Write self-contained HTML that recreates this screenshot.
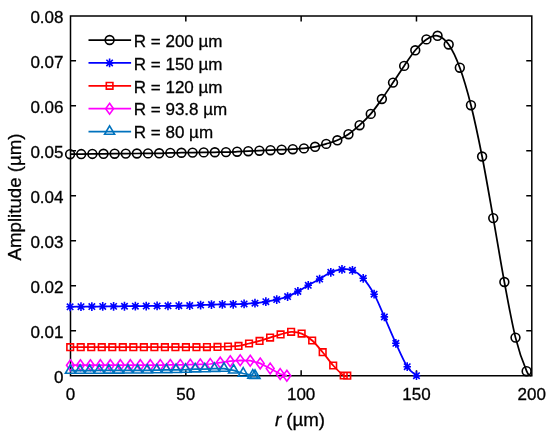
<!DOCTYPE html>
<html><head><meta charset="utf-8"><title>Amplitude vs r</title>
<style>html,body{margin:0;padding:0;background:#fff;width:550px;height:434px;overflow:hidden}svg{display:block}text{font-family:"Liberation Sans",sans-serif}</style>
</head><body>
<svg width="550" height="434" viewBox="0 0 550 434"><rect width="550" height="434" fill="#fff"/>
<path d="M70.5,15.9H531.8V375.7H70.5ZM185.82,375.7v-4.8M185.82,15.9v4.8M301.15,375.7v-4.8M301.15,15.9v4.8M416.48,375.7v-4.8M416.48,15.9v4.8M70.5,330.72h4.8M531.8,330.72h-4.8M70.5,285.75h4.8M531.8,285.75h-4.8M70.5,240.77h4.8M531.8,240.77h-4.8M70.5,195.8h4.8M531.8,195.8h-4.8M70.5,150.82h4.8M531.8,150.82h-4.8M70.5,105.85h4.8M531.8,105.85h-4.8M70.5,60.87h4.8M531.8,60.87h-4.8" fill="none" stroke="#000000" stroke-width="1.5" stroke-linecap="square"/>
<g font-size="17" fill="#000000" stroke="#000000" stroke-width="0.3">
<text x="70.5" y="400" text-anchor="middle">0</text>
<text x="185.82" y="400" text-anchor="middle">50</text>
<text x="301.15" y="400" text-anchor="middle">100</text>
<text x="416.48" y="400" text-anchor="middle">150</text>
<text x="531.8" y="400" text-anchor="middle">200</text>
<text x="63.5" y="382.7" text-anchor="end">0</text>
<text x="63.5" y="337.72" text-anchor="end">0.01</text>
<text x="63.5" y="292.75" text-anchor="end">0.02</text>
<text x="63.5" y="247.77" text-anchor="end">0.03</text>
<text x="63.5" y="202.8" text-anchor="end">0.04</text>
<text x="63.5" y="157.82" text-anchor="end">0.05</text>
<text x="63.5" y="112.85" text-anchor="end">0.06</text>
<text x="63.5" y="67.87" text-anchor="end">0.07</text>
<text x="63.5" y="22.9" text-anchor="end">0.08</text>
</g>
<text x="300" y="426" font-size="18.7" fill="#000000" stroke="#000000" stroke-width="0.3" text-anchor="middle"><tspan font-style="italic">r</tspan> (µm)</text>
<text transform="translate(21.2,197) rotate(-90)" font-size="18.7" fill="#000000" stroke="#000000" stroke-width="0.3" text-anchor="middle">Amplitude (µm)</text>
<path d="M70.1,154.2C71.96,154.18 77.52,154.11 81.23,154.07C84.95,154.02 88.66,153.98 92.37,153.93C96.08,153.89 99.79,153.84 103.5,153.8C107.22,153.76 110.93,153.73 114.64,153.7C118.35,153.67 122.06,153.63 125.77,153.6C129.49,153.57 133.2,153.53 136.91,153.5C140.62,153.47 144.33,153.43 148.04,153.4C151.76,153.37 155.47,153.38 159.18,153.3C162.89,153.22 166.6,152.99 170.31,152.9C174.03,152.81 177.74,152.79 181.45,152.74C185.16,152.69 188.87,152.63 192.58,152.58C196.3,152.53 200.01,152.47 203.72,152.42C207.43,152.37 211.14,152.31 214.85,152.26C218.57,152.21 222.28,152.19 225.99,152.1C229.7,152.01 233.41,151.85 237.12,151.7C240.84,151.55 244.55,151.37 248.26,151.2C251.97,151.03 255.68,150.87 259.39,150.7C263.11,150.53 266.82,150.37 270.53,150.2C274.24,150.03 277.95,149.87 281.66,149.7C285.38,149.53 289.09,149.42 292.8,149.2C296.51,148.98 300.22,148.8 303.94,148.4C307.65,148 311.36,147.55 315.07,146.8C318.78,146.05 322.49,144.98 326.21,143.9C329.92,142.82 333.63,141.92 337.34,140.3C341.05,138.68 344.76,136.72 348.48,134.2C352.19,131.68 355.9,128.58 359.61,125.2C363.32,121.82 367.03,118.27 370.75,113.9C374.46,109.53 378.17,104.22 381.88,99C385.59,93.78 389.3,88.12 393.01,82.6C396.73,77.08 400.44,71.28 404.15,65.9C407.86,60.52 411.57,54.72 415.28,50.3C419,45.88 422.71,41.82 426.42,39.4C430.13,36.98 433.84,34.95 437.55,35.8C441.27,36.65 444.98,39.18 448.69,44.5C452.4,49.82 456.11,57.58 459.82,67.7C463.54,77.82 467.25,90.4 470.96,105.2C474.67,120 478.38,137.68 482.1,156.5C485.81,175.32 489.52,197.18 493.23,218.1C496.94,239.02 500.65,262.08 504.37,282C508.08,301.92 511.79,322.73 515.5,337.6C519.21,352.47 523.92,364.85 526.63,371.2C529.35,377.55 530.94,374.95 531.8,375.7" fill="none" stroke="#000000" stroke-width="1.75" stroke-linejoin="round"/>
<g fill="none" stroke="#000000" stroke-width="1.6"><circle cx="70.1" cy="154.2" r="4.4"/><circle cx="81.23" cy="154.07" r="4.4"/><circle cx="92.37" cy="153.93" r="4.4"/><circle cx="103.5" cy="153.8" r="4.4"/><circle cx="114.64" cy="153.7" r="4.4"/><circle cx="125.77" cy="153.6" r="4.4"/><circle cx="136.91" cy="153.5" r="4.4"/><circle cx="148.04" cy="153.4" r="4.4"/><circle cx="159.18" cy="153.3" r="4.4"/><circle cx="170.31" cy="152.9" r="4.4"/><circle cx="181.45" cy="152.74" r="4.4"/><circle cx="192.58" cy="152.58" r="4.4"/><circle cx="203.72" cy="152.42" r="4.4"/><circle cx="214.85" cy="152.26" r="4.4"/><circle cx="225.99" cy="152.1" r="4.4"/><circle cx="237.12" cy="151.7" r="4.4"/><circle cx="248.26" cy="151.2" r="4.4"/><circle cx="259.39" cy="150.7" r="4.4"/><circle cx="270.53" cy="150.2" r="4.4"/><circle cx="281.66" cy="149.7" r="4.4"/><circle cx="292.8" cy="149.2" r="4.4"/><circle cx="303.94" cy="148.4" r="4.4"/><circle cx="315.07" cy="146.8" r="4.4"/><circle cx="326.21" cy="143.9" r="4.4"/><circle cx="337.34" cy="140.3" r="4.4"/><circle cx="348.48" cy="134.2" r="4.4"/><circle cx="359.61" cy="125.2" r="4.4"/><circle cx="370.75" cy="113.9" r="4.4"/><circle cx="381.88" cy="99" r="4.4"/><circle cx="393.01" cy="82.6" r="4.4"/><circle cx="404.15" cy="65.9" r="4.4"/><circle cx="415.28" cy="50.3" r="4.4"/><circle cx="426.42" cy="39.4" r="4.4"/><circle cx="437.55" cy="35.8" r="4.4"/><circle cx="448.69" cy="44.5" r="4.4"/><circle cx="459.82" cy="67.7" r="4.4"/><circle cx="470.96" cy="105.2" r="4.4"/><circle cx="482.1" cy="156.5" r="4.4"/><circle cx="493.23" cy="218.1" r="4.4"/><circle cx="504.37" cy="282" r="4.4"/><circle cx="515.5" cy="337.6" r="4.4"/><circle cx="526.63" cy="371.2" r="4.4"/></g>
<path d="M70.1,306.8C71.91,306.78 77.35,306.73 80.97,306.69C84.6,306.65 88.22,306.62 91.85,306.58C95.47,306.55 99.1,306.51 102.72,306.47C106.35,306.44 109.97,306.4 113.6,306.36C117.22,306.33 120.85,306.29 124.47,306.25C128.1,306.22 131.72,306.18 135.35,306.15C138.97,306.11 142.6,306.07 146.22,306.04C149.85,306 153.47,305.96 157.1,305.93C160.72,305.89 164.35,305.85 167.97,305.82C171.6,305.78 175.22,305.75 178.85,305.71C182.47,305.67 186.1,305.7 189.72,305.6C193.35,305.5 196.97,305.27 200.6,305.1C204.22,304.93 207.85,304.72 211.47,304.6C215.1,304.48 218.72,304.45 222.35,304.4C225.97,304.35 229.6,304.38 233.22,304.3C236.85,304.22 240.47,304.08 244.1,303.9C247.72,303.72 251.35,303.57 254.97,303.2C258.6,302.83 262.23,302.3 265.85,301.7C269.48,301.1 273.1,300.45 276.73,299.6C280.35,298.75 284.08,297.97 287.6,296.6C291.12,295.23 294.43,293.28 297.88,291.4C301.32,289.52 304.62,287.35 308.25,285.3C311.88,283.25 315.87,281.27 319.62,279.1C323.38,276.93 327.07,273.92 330.8,272.3C334.53,270.68 338.37,269.73 341.98,269.4C345.58,269.07 348.91,268.82 352.45,270.3C355.99,271.78 359.62,274.32 363.23,278.3C366.83,282.28 370.58,287.77 374.1,294.2C377.62,300.63 380.75,308.72 384.38,316.9C388,325.08 392.04,335 395.85,343.3C399.66,351.6 403.79,361.3 407.23,366.7C410.66,372.1 414.93,374.2 416.48,375.7" fill="none" stroke="#0000ff" stroke-width="1.75" stroke-linejoin="round"/>
<path d="M70.1,302.4v8.8M66.89,303.63L73.31,309.97M66.89,309.97L73.31,303.63M66.36,306.8h7.48M80.97,302.29v8.8M77.76,303.52L84.19,309.86M77.76,309.86L84.19,303.52M77.23,306.69h7.48M91.85,302.18v8.8M88.64,303.41L95.06,309.75M88.64,309.75L95.06,303.41M88.11,306.58h7.48M102.72,302.07v8.8M99.51,303.3L105.94,309.64M99.51,309.64L105.94,303.3M98.98,306.47h7.48M113.6,301.96v8.8M110.39,303.2L116.81,309.53M110.39,309.53L116.81,303.2M109.86,306.36h7.48M124.47,301.85v8.8M121.26,303.09L127.69,309.42M121.26,309.42L127.69,303.09M120.73,306.25h7.48M135.35,301.75v8.8M132.14,302.98L138.56,309.31M132.14,309.31L138.56,302.98M131.61,306.15h7.48M146.22,301.64v8.8M143.01,302.87L149.44,309.2M143.01,309.2L149.44,302.87M142.48,306.04h7.48M157.1,301.53v8.8M153.89,302.76L160.31,309.1M153.89,309.1L160.31,302.76M153.36,305.93h7.48M167.97,301.42v8.8M164.76,302.65L171.19,308.99M164.76,308.99L171.19,302.65M164.23,305.82h7.48M178.85,301.31v8.8M175.64,302.54L182.06,308.88M175.64,308.88L182.06,302.54M175.11,305.71h7.48M189.72,301.2v8.8M186.51,302.43L192.94,308.77M186.51,308.77L192.94,302.43M185.98,305.6h7.48M200.6,300.7v8.8M197.39,301.93L203.81,308.27M197.39,308.27L203.81,301.93M196.86,305.1h7.48M211.47,300.2v8.8M208.26,301.43L214.69,307.77M208.26,307.77L214.69,301.43M207.73,304.6h7.48M222.35,300v8.8M219.14,301.23L225.56,307.57M219.14,307.57L225.56,301.23M218.61,304.4h7.48M233.22,299.9v8.8M230.01,301.13L236.44,307.47M230.01,307.47L236.44,301.13M229.48,304.3h7.48M244.1,299.5v8.8M240.89,300.73L247.31,307.07M240.89,307.07L247.31,300.73M240.36,303.9h7.48M254.97,298.8v8.8M251.76,300.03L258.19,306.37M251.76,306.37L258.19,300.03M251.23,303.2h7.48M265.85,297.3v8.8M262.64,298.53L269.06,304.87M262.64,304.87L269.06,298.53M262.11,301.7h7.48M276.73,295.2v8.8M273.51,296.43L279.94,302.77M273.51,302.77L279.94,296.43M272.99,299.6h7.48M287.6,292.2v8.8M284.39,293.43L290.81,299.77M284.39,299.77L290.81,293.43M283.86,296.6h7.48M297.88,287v8.8M294.66,288.23L301.09,294.57M294.66,294.57L301.09,288.23M294.13,291.4h7.48M308.25,280.9v8.8M305.04,282.13L311.46,288.47M305.04,288.47L311.46,282.13M304.51,285.3h7.48M319.62,274.7v8.8M316.41,275.93L322.84,282.27M316.41,282.27L322.84,275.93M315.88,279.1h7.48M330.8,267.9v8.8M327.59,269.13L334.01,275.47M327.59,275.47L334.01,269.13M327.06,272.3h7.48M341.98,265v8.8M338.76,266.23L345.19,272.57M338.76,272.57L345.19,266.23M338.24,269.4h7.48M352.45,265.9v8.8M349.24,267.13L355.66,273.47M349.24,273.47L355.66,267.13M348.71,270.3h7.48M363.23,273.9v8.8M360.01,275.13L366.44,281.47M360.01,281.47L366.44,275.13M359.49,278.3h7.48M374.1,289.8v8.8M370.89,291.03L377.31,297.37M370.89,297.37L377.31,291.03M370.36,294.2h7.48M384.38,312.5v8.8M381.16,313.73L387.59,320.07M381.16,320.07L387.59,313.73M380.63,316.9h7.48M395.85,338.9v8.8M392.64,340.13L399.06,346.47M392.64,346.47L399.06,340.13M392.11,343.3h7.48M407.23,362.3v8.8M404.01,363.53L410.44,369.87M404.01,369.87L410.44,363.53M403.49,366.7h7.48M416.48,371.3v8.8M413.26,372.53L419.69,378.87M413.26,378.87L419.69,372.53M412.74,375.7h7.48" fill="none" stroke="#0000ff" stroke-width="1.6" stroke-linejoin="miter"/>
<path d="M70.2,347.2C71.95,347.2 77.21,347.2 80.72,347.2C84.23,347.2 87.73,347.2 91.24,347.2C94.75,347.2 98.25,347.2 101.76,347.2C105.27,347.2 108.77,347.2 112.28,347.2C115.79,347.2 119.29,347.2 122.8,347.2C126.31,347.2 129.81,347.2 133.32,347.2C136.83,347.2 140.33,347.2 143.84,347.2C147.35,347.2 150.85,347.2 154.36,347.2C157.87,347.2 161.37,347.2 164.88,347.2C168.39,347.2 171.89,347.2 175.4,347.2C178.91,347.2 182.41,347.2 185.92,347.2C189.43,347.2 192.93,347.22 196.44,347.2C199.95,347.18 203.45,347.15 206.96,347.1C210.47,347.05 213.97,347 217.48,346.9C220.99,346.8 224.49,346.67 228,346.5C231.51,346.33 235.01,346.4 238.52,345.9C242.03,345.4 245.53,344.33 249.04,343.5C252.55,342.67 256.05,341.88 259.56,340.9C263.07,339.92 266.57,338.68 270.08,337.6C273.59,336.52 277.09,335.37 280.6,334.4C284.11,333.43 287.61,331.93 291.12,331.8C294.63,331.67 298.13,332.15 301.64,333.6C305.15,335.05 308.65,337.4 312.16,340.5C315.67,343.6 319.17,348.03 322.68,352.2C326.19,356.37 329.69,361.62 333.2,365.5C336.71,369.38 341.37,373.8 343.72,375.5C346.07,377.2 346.69,375.67 347.28,375.7" fill="none" stroke="#ff0000" stroke-width="1.75" stroke-linejoin="round"/>
<path d="M66.9,343.9h6.6v6.6h-6.6zM77.42,343.9h6.6v6.6h-6.6zM87.94,343.9h6.6v6.6h-6.6zM98.46,343.9h6.6v6.6h-6.6zM108.98,343.9h6.6v6.6h-6.6zM119.5,343.9h6.6v6.6h-6.6zM130.02,343.9h6.6v6.6h-6.6zM140.54,343.9h6.6v6.6h-6.6zM151.06,343.9h6.6v6.6h-6.6zM161.58,343.9h6.6v6.6h-6.6zM172.1,343.9h6.6v6.6h-6.6zM182.62,343.9h6.6v6.6h-6.6zM193.14,343.9h6.6v6.6h-6.6zM203.66,343.8h6.6v6.6h-6.6zM214.18,343.6h6.6v6.6h-6.6zM224.7,343.2h6.6v6.6h-6.6zM235.22,342.6h6.6v6.6h-6.6zM245.74,340.2h6.6v6.6h-6.6zM256.26,337.6h6.6v6.6h-6.6zM266.78,334.3h6.6v6.6h-6.6zM277.3,331.1h6.6v6.6h-6.6zM287.82,328.5h6.6v6.6h-6.6zM298.34,330.3h6.6v6.6h-6.6zM308.86,337.2h6.6v6.6h-6.6zM319.38,348.9h6.6v6.6h-6.6zM329.9,362.2h6.6v6.6h-6.6zM340.42,372.2h6.6v6.6h-6.6zM343.98,372.4h6.6v6.6h-6.6z" fill="none" stroke="#ff0000" stroke-width="1.6" stroke-linejoin="miter"/>
<path d="M70.4,365.2 L80.39,365.18 L90.38,365.16 L100.37,365.14 L110.36,365.12 L120.35,365.1 L130.34,365.1 L140.33,365.1 L150.32,365.1 L160.31,365.03 L170.3,364.97 L180.29,364.9 L190.28,364.7 L200.27,364.4 L210.26,364 L220.25,362.6 L230.24,361.2 L240.23,360.3 L250.22,360.7 L260.21,363.4 L270.2,368.5 L280.19,374 L286.85,375.7" fill="none" stroke="#ff00ff" stroke-width="1.75" stroke-linejoin="round"/>
<path d="M70.4,359.8L74.3,365.2L70.4,370.6L66.5,365.2zM80.39,359.78L84.29,365.18L80.39,370.58L76.49,365.18zM90.38,359.76L94.28,365.16L90.38,370.56L86.48,365.16zM100.37,359.74L104.27,365.14L100.37,370.54L96.47,365.14zM110.36,359.72L114.26,365.12L110.36,370.52L106.46,365.12zM120.35,359.7L124.25,365.1L120.35,370.5L116.45,365.1zM130.34,359.7L134.24,365.1L130.34,370.5L126.44,365.1zM140.33,359.7L144.23,365.1L140.33,370.5L136.43,365.1zM150.32,359.7L154.22,365.1L150.32,370.5L146.42,365.1zM160.31,359.63L164.21,365.03L160.31,370.43L156.41,365.03zM170.3,359.57L174.2,364.97L170.3,370.37L166.4,364.97zM180.29,359.5L184.19,364.9L180.29,370.3L176.39,364.9zM190.28,359.3L194.18,364.7L190.28,370.1L186.38,364.7zM200.27,359L204.17,364.4L200.27,369.8L196.37,364.4zM210.26,358.6L214.16,364L210.26,369.4L206.36,364zM220.25,357.2L224.15,362.6L220.25,368L216.35,362.6zM230.24,355.8L234.14,361.2L230.24,366.6L226.34,361.2zM240.23,354.9L244.13,360.3L240.23,365.7L236.33,360.3zM250.22,355.3L254.12,360.7L250.22,366.1L246.32,360.7zM260.21,358L264.11,363.4L260.21,368.8L256.31,363.4zM270.2,363.1L274.1,368.5L270.2,373.9L266.3,368.5zM280.19,368.6L284.09,374L280.19,379.4L276.29,374zM286.85,370.3L290.75,375.7L286.85,381.1L282.95,375.7z" fill="none" stroke="#ff00ff" stroke-width="1.6" stroke-linejoin="miter"/>
<path d="M70.4,370.6 L80,370.56 L89.6,370.53 L99.2,370.49 L108.8,370.45 L118.4,370.41 L128,370.38 L137.6,370.34 L147.2,370.3 L156.8,370.12 L166.4,369.95 L176,369.78 L185.6,369.6 L195.2,369.2 L204.8,369.1 L214.4,368.7 L224,368.6 L233.6,370.3 L243.2,373.5 L252.8,375.4 L255.02,375.7" fill="none" stroke="#0072bd" stroke-width="1.75" stroke-linejoin="round"/>
<path d="M70.4,364.8L75.4,373.3L65.4,373.3zM80,364.76L85,373.26L75,373.26zM89.6,364.73L94.6,373.23L84.6,373.23zM99.2,364.69L104.2,373.19L94.2,373.19zM108.8,364.65L113.8,373.15L103.8,373.15zM118.4,364.61L123.4,373.11L113.4,373.11zM128,364.57L133,373.07L123,373.07zM137.6,364.54L142.6,373.04L132.6,373.04zM147.2,364.5L152.2,373L142.2,373zM156.8,364.32L161.8,372.82L151.8,372.82zM166.4,364.15L171.4,372.65L161.4,372.65zM176,363.98L181,372.48L171,372.48zM185.6,363.8L190.6,372.3L180.6,372.3zM195.2,363.4L200.2,371.9L190.2,371.9zM204.8,363.3L209.8,371.8L199.8,371.8zM214.4,362.9L219.4,371.4L209.4,371.4zM224,362.8L229,371.3L219,371.3zM233.6,364.5L238.6,373L228.6,373zM243.2,367.7L248.2,376.2L238.2,376.2zM252.8,369.6L257.8,378.1L247.8,378.1zM255.02,369.9L260.02,378.4L250.02,378.4z" fill="none" stroke="#0072bd" stroke-width="1.6" stroke-linejoin="miter"/>
<path d="M88.5,40H131.1" stroke="#000000" stroke-width="1.75"/>
<g fill="none" stroke="#000000" stroke-width="1.6"><circle cx="109.6" cy="40" r="4.4"/></g>
<text x="133.8" y="46.7" font-size="17" fill="#000" stroke="#000" stroke-width="0.3">R = 200 µm</text>
<path d="M88.5,62.9H131.1" stroke="#0000ff" stroke-width="1.75"/>
<path d="M109.6,58.5v8.8M106.39,59.73L112.81,66.07M106.39,66.07L112.81,59.73M105.86,62.9h7.48" fill="none" stroke="#0000ff" stroke-width="1.6"/>
<text x="133.8" y="69.6" font-size="17" fill="#000" stroke="#000" stroke-width="0.3">R = 150 µm</text>
<path d="M88.5,85.8H131.1" stroke="#ff0000" stroke-width="1.75"/>
<path d="M106.3,82.5h6.6v6.6h-6.6z" fill="none" stroke="#ff0000" stroke-width="1.6"/>
<text x="133.8" y="92.5" font-size="17" fill="#000" stroke="#000" stroke-width="0.3">R = 120 µm</text>
<path d="M88.5,108.7H131.1" stroke="#ff00ff" stroke-width="1.75"/>
<path d="M109.6,103.3L113.5,108.7L109.6,114.1L105.7,108.7z" fill="none" stroke="#ff00ff" stroke-width="1.6"/>
<text x="133.8" y="115.4" font-size="17" fill="#000" stroke="#000" stroke-width="0.3">R = 93.8 µm</text>
<path d="M88.5,131.6H131.1" stroke="#0072bd" stroke-width="1.75"/>
<path d="M109.6,125.8L114.6,134.3L104.6,134.3z" fill="none" stroke="#0072bd" stroke-width="1.6"/>
<text x="133.8" y="138.3" font-size="17" fill="#000" stroke="#000" stroke-width="0.3">R = 80 µm</text></svg>
</body></html>
